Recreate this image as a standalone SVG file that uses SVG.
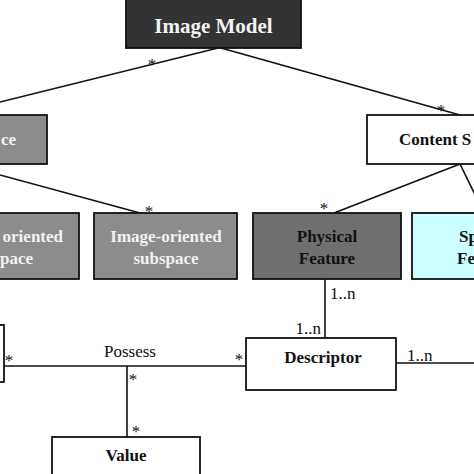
<svg xmlns="http://www.w3.org/2000/svg" width="474" height="474" viewBox="0 0 474 474">
<style>
.box{stroke:#111;stroke-width:1.8}
.dark{fill:#333333}
.gray{fill:#8c8c8c}
.mid{fill:#6f6f6f}
.white{fill:#ffffff}
.cyan{fill:#ccffff}
.t{font-family:"Liberation Serif","Times New Roman",serif;font-size:17px;font-weight:bold;fill:#111}
.tw{fill:#f2f2f2}
.r{font-family:"Liberation Serif","Times New Roman",serif;font-size:17px;fill:#111}
.c{text-anchor:middle}
.e{text-anchor:end}
.ln{stroke:#111;stroke-width:1.6;fill:none}
</style>
<rect width="474" height="474" fill="#ffffff"/>
<g id="connectors">
<line class="ln" x1="218" y1="48" x2="0" y2="102"/>
<line class="ln" x1="221" y1="48" x2="460" y2="115"/>
<line class="ln" x1="0" y1="175" x2="140" y2="213"/>
<line class="ln" x1="460" y1="164" x2="334" y2="213"/>
<line class="ln" x1="460" y1="164" x2="484" y2="213"/>
<line class="ln" x1="325" y1="278" x2="325" y2="338"/>
<line class="ln" x1="396" y1="363" x2="474" y2="363"/>
<line class="ln" x1="4" y1="366" x2="246" y2="366"/>
<line class="ln" x1="127" y1="366" x2="127" y2="437"/>
<text class="r c" x="152" y="70">*</text>
<text class="r c" x="441" y="116">*</text>
<text class="r c" x="149" y="217">*</text>
<text class="r c" x="324" y="214">*</text>
<text class="r c" x="9" y="366">*</text>
<text class="r c" x="239" y="365">*</text>
<text class="r c" x="133" y="385">*</text>
<text class="r c" x="136" y="437">*</text>
<text class="r" x="330" y="299">1..n</text>
<text class="r e" x="321" y="334">1..n</text>
<text class="r" x="407" y="361">1..n</text>
<text class="r c" x="130" y="357">Possess</text>
</g>
<g id="image-model">
<rect class="box dark" x="126" y="-2" width="175" height="50"/>
<text class="t tw c" x="213.5" y="33" style="font-size:21px">Image Model</text>
</g>
<g id="space">
<rect class="box gray" x="-2" y="115" width="49" height="49"/>
<text class="t tw e" x="16" y="145">ce</text>
</g>
<g id="content-space">
<rect class="box white" x="367" y="115" width="110" height="49"/>
<text class="t" x="399" y="145">Content S</text>
</g>
<g id="oriented-subspace">
<rect class="box gray" x="-2" y="213" width="81" height="66"/>
<text class="t tw e" x="63" y="242">oriented</text>
<text class="t tw e" x="33" y="264">pace</text>
</g>
<g id="image-oriented-subspace">
<rect class="box gray" x="94" y="213" width="143" height="66"/>
<text class="t tw c" x="166" y="242">Image-oriented</text>
<text class="t tw c" x="166" y="264">subspace</text>
</g>
<g id="physical-feature">
<rect class="box mid" x="253" y="213" width="148" height="66"/>
<text class="t c" x="327" y="242">Physical</text>
<text class="t c" x="327" y="264">Feature</text>
</g>
<g id="spatial-feature">
<rect class="box cyan" x="412" y="213" width="70" height="66"/>
<text class="t" x="459" y="242">Sp</text>
<text class="t" x="457" y="264">Fe</text>
</g>
<g id="left-box">
<rect class="box white" x="-4" y="325" width="8" height="57"/>
</g>
<g id="descriptor">
<rect class="box white" x="246" y="338" width="150" height="52"/>
<text class="t c" x="323" y="363">Descriptor</text>
</g>
<g id="value">
<rect class="box white" x="52" y="437" width="148" height="40"/>
<text class="t c" x="126" y="461">Value</text>
</g>
</svg>
